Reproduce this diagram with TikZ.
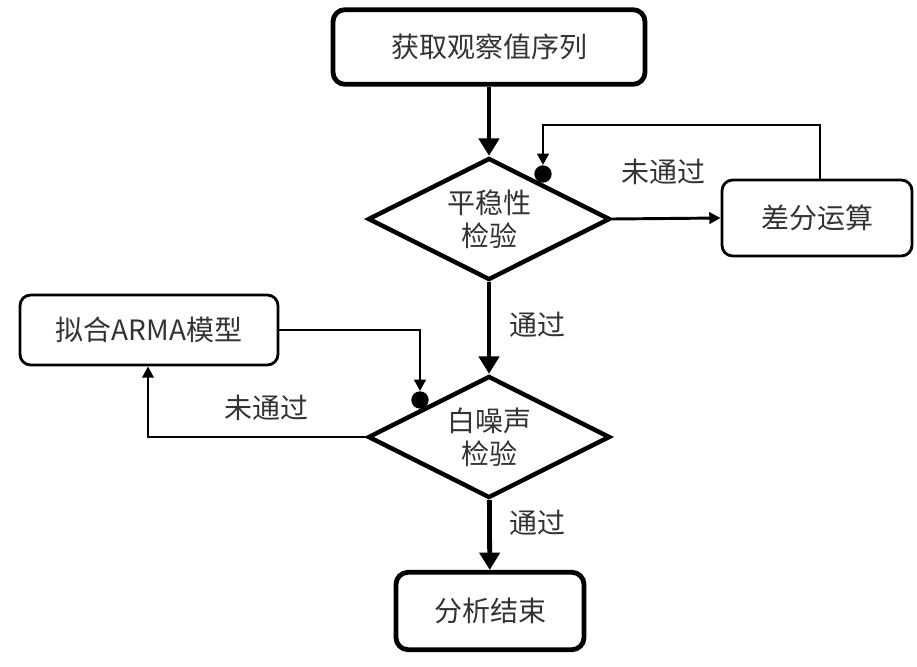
\documentclass[tikz,border=0pt]{standalone}
\usepackage{fontspec}
\setmainfont{Noto Sans CJK SC}
\usetikzlibrary{shapes.geometric,arrows.meta}
\definecolor{txtgray}{HTML}{333333}
\tikzset{
  bigbox/.style={draw, line width=3.6pt, rounded corners=9pt, text=txtgray, inner sep=0pt},
  smallbox/.style={draw, line width=2.1pt, rounded corners=8pt, text=txtgray, inner sep=0pt},
  check/.style={draw, diamond, aspect=2, line width=3.3pt, inner sep=0pt, align=center,
    text=txtgray, minimum width=181.5pt, minimum height=91.5pt},
  lbl/.style={text=txtgray, inner sep=0pt},
  dot/.style={circle, fill=black, inner sep=0pt, minimum size=13pt},
  mainflow/.style={line width=3.6pt, -{Triangle[width=15pt,length=13pt]}},
  sideflow/.style={line width=2.2pt, -{Triangle[width=8.5pt,length=8.5pt]}},
}
\begin{document}
\begin{tikzpicture}[x=0.75pt, y=-0.75pt, font=\fontsize{21}{25}\selectfont]
  \useasboundingbox (0, 0) rectangle (917, 667);

  % nodes
  \node[bigbox, minimum width=234pt, minimum height=56pt] (obs) at (489, 47) {获取观察值序列};
  \node[check] (stat) at (489, 219) {平稳性\\检验};
  \node[smallbox, minimum width=142.5pt, minimum height=57pt] (diff) at (817, 218) {差分运算};
  \node[check] (noise) at (489, 437) {白噪声\\检验};
  \node[smallbox, minimum width=193.5pt, minimum height=52.5pt] (arma) at (149, 330) {拟合ARMA模型};
  \node[bigbox, minimum width=141pt, minimum height=58pt] (done) at (490, 611) {分析结束};

  \node[dot] (dot1) at (543, 174) {};
  \node[dot] (dot2) at (420, 400) {};
  \coordinate (up1) at (820, 125);
  \coordinate (up2) at (543, 125);
  \coordinate (side1) at (420, 328);
  \coordinate (side2) at (148, 437);

  % labels
  \node[lbl] (fail1) at (663, 172) {未通过};
  \node[lbl] (pass1) at (537, 325) {通过};
  \node[lbl] (fail2) at (266, 408) {未通过};
  \node[lbl] (pass2) at (537, 523) {通过};

  % connectors
  \draw[mainflow] (obs) -- (stat);
  \draw[mainflow] (stat) -- (noise);
  \draw[mainflow] (noise) -- (done);
  \draw[sideflow] (stat.east) -- (diff.west);
  \draw[sideflow] (diff.north -| up1) -- (up1) -- (up2) -- (dot1.north);
  \draw[sideflow] (arma.east) -- (arma.east -| side1) -- (dot2.north);
  \draw[sideflow] (noise.west) -- (side2) -- (arma.south -| side2);

\end{tikzpicture}
\end{document}
